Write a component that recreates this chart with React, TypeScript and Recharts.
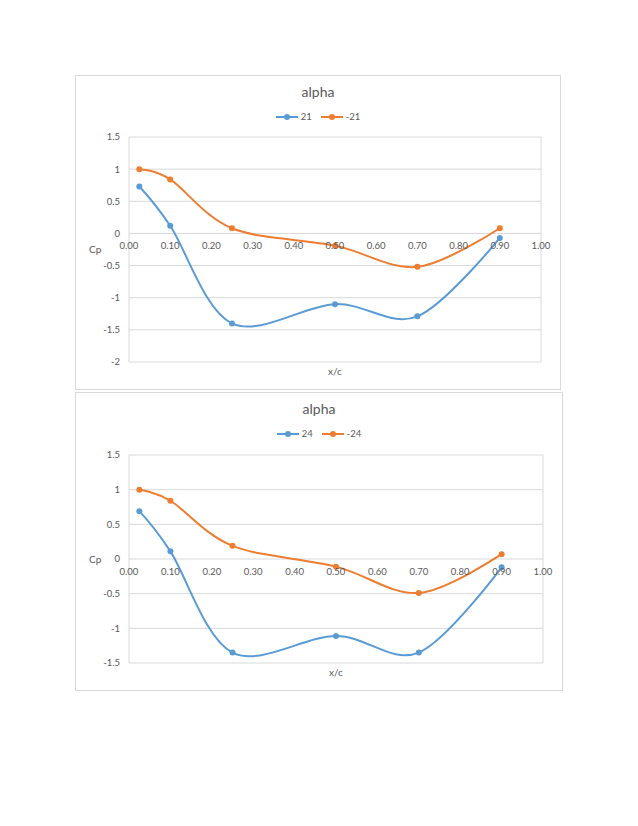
import React from 'react';
import {
  LineChart,
  Line,
  XAxis,
  YAxis,
  CartesianGrid,
  ReferenceDot,
} from 'recharts';

// chord stations shared by every run
const xc = [0.025, 0.1, 0.25, 0.5, 0.7, 0.9];

// pressure coefficients, alpha = +/-21
const cp21 = [0.73, 0.12, -1.4, -1.1, -1.29, -0.07];
const cpNeg21 = [1.0, 0.84, 0.08, -0.19, -0.52, 0.08];

// pressure coefficients, alpha = +/-24
const cp24 = [0.69, 0.11, -1.35, -1.11, -1.35, -0.12];
const cpNeg24 = [1.0, 0.84, 0.19, -0.11, -0.49, 0.07];

const xTicks = [0, 0.1, 0.2, 0.3, 0.4, 0.5, 0.6, 0.7, 0.8, 0.9, 1.0];
const yTicksTop = [1.5, 1, 0.5, 0, -0.5, -1, -1.5, -2];
const yTicksBottom = [1.5, 1, 0.5, 0, -0.5, -1, -1.5];

const BLUE = '#5b9bd5';
const ORANGE = '#ed7d31';
const GRID = '#d9d9d9';
const TEXT = '#595959';
const FONT = 'Lato, "Open Sans", sans-serif';

// Catmull-Rom style smoothing, close to the spreadsheet "smoothed line"
function smoothCurve(context: any) {
  const k = 1 / 6;
  let x0 = NaN, x1 = NaN, x2 = NaN, y0 = NaN, y1 = NaN, y2 = NaN;
  let n = 0;
  const seg = (x: number, y: number) =>
    context.bezierCurveTo(
      x1 + k * (x2 - x0),
      y1 + k * (y2 - y0),
      x2 + k * (x1 - x),
      y2 + k * (y1 - y),
      x2,
      y2
    );
  return {
    areaStart() {},
    areaEnd() {},
    lineStart() {
      x0 = x1 = x2 = y0 = y1 = y2 = NaN;
      n = 0;
    },
    lineEnd() {
      if (n === 2) context.lineTo(x2, y2);
      else if (n === 3) seg(x1, y1);
    },
    point(x: number, y: number) {
      if (n === 0) {
        n = 1;
        context.moveTo(x, y);
      } else if (n === 1) {
        n = 2;
        x1 = x;
        y1 = y;
      } else {
        n = 3;
        seg(x, y);
      }
      x0 = x1; x1 = x2; x2 = x;
      y0 = y1; y1 = y2; y2 = y;
    },
  };
}

interface SeriesDef {
  name: string;
  values: number[];
  color: string;
}

interface PanelProps {
  left: number;
  top: number;
  width: number;
  height: number;
  plotTop: number;
  plotRight: number;
  series: SeriesDef[];
  yTicks: number[];
}

function LegendRow({ series }: { series: SeriesDef[] }) {
  return (
    <div
      style={{
        position: 'absolute',
        top: 36,
        left: 0,
        right: 0,
        display: 'flex',
        justifyContent: 'center',
        gap: 9,
        fontSize: 9.5,
        color: TEXT,
        fontFamily: FONT,
      }}
    >
      {series.map((s) => (
        <div key={s.name} style={{ display: 'flex', alignItems: 'center', gap: 3 }}>
          <svg width={22} height={10}>
            <line x1={0} y1={5} x2={22} y2={5} stroke={s.color} strokeWidth={2} />
            <circle cx={11} cy={5} r={3} fill={s.color} />
          </svg>
          <span>{s.name}</span>
        </div>
      ))}
    </div>
  );
}

function CpPanel({ left, top, width, height, plotTop, plotRight, series, yTicks }: PanelProps) {
  const data = xc.map((x, i) => {
    const row: Record<string, number> = { x };
    series.forEach((s) => {
      row[s.name] = s.values[i];
    });
    return row;
  });
  const yMin = yTicks[yTicks.length - 1];
  const yMax = yTicks[0];

  return (
    <div
      style={{
        position: 'absolute',
        left,
        top,
        width,
        height,
        boxShadow: `inset 0 0 0 1px ${GRID}`,
        background: '#fff',
      }}
    >
      <div
        style={{
          position: 'absolute',
          top: 8,
          left: 0,
          right: 0,
          textAlign: 'center',
          fontSize: 14,
          color: TEXT,
          fontFamily: FONT,
        }}
      >
        alpha
      </div>
      <LegendRow series={series} />
      <div style={{ position: 'absolute', left: 0, top: 0 }}>
        <LineChart
          width={width}
          height={height}
          data={data}
          margin={{ top: plotTop, right: plotRight, bottom: 14, left: 0 }}
          style={{ fontFamily: FONT }}
        >
          <CartesianGrid stroke={GRID} strokeWidth={1} />
          <XAxis
            dataKey="x"
            type="number"
            domain={[0, 1]}
            ticks={xTicks}
            tick={false}
            axisLine={false}
            tickLine={false}
            height={14}
            label={{ value: 'x/c', position: 'insideBottom', offset: 1, fill: TEXT, fontSize: 10 }}
          />
          <YAxis
            type="number"
            domain={[yMin, yMax]}
            ticks={yTicks}
            width={54}
            axisLine={false}
            tickLine={false}
            tickSize={0}
            tickMargin={9}
            tick={{ fill: TEXT, fontSize: 9.5 }}
            label={{ value: 'Cp', position: 'insideLeft', offset: 14, angle: 0, fill: TEXT, fontSize: 10 }}
          />
          {xTicks.map((t) => (
            <ReferenceDot
              key={t}
              x={t}
              y={0}
              r={0}
              fill="none"
              stroke="none"
              label={{ value: t.toFixed(2), position: 'bottom', offset: 9, fill: TEXT, fontSize: 9.5 }}
            />
          ))}
          {series.map((s) => (
            <Line
              key={s.name}
              dataKey={s.name}
              type={smoothCurve as any}
              stroke={s.color}
              strokeWidth={2}
              dot={{ r: 3, fill: s.color, stroke: s.color, strokeWidth: 0 }}
              activeDot={false}
              isAnimationActive={false}
            />
          ))}
        </LineChart>
      </div>
    </div>
  );
}

export default function App() {
  return (
    <div style={{ position: 'absolute', left: 0, top: 0, width: 638, height: 826, background: '#fff' }}>
      <CpPanel
        left={75}
        top={75}
        width={486}
        height={315}
        plotTop={62}
        plotRight={20}
        yTicks={yTicksTop}
        series={[
          { name: '21', values: cp21, color: BLUE },
          { name: '-21', values: cpNeg21, color: ORANGE },
        ]}
      />
      <CpPanel
        left={75}
        top={392}
        width={488}
        height={299}
        plotTop={63}
        plotRight={20}
        yTicks={yTicksBottom}
        series={[
          { name: '24', values: cp24, color: BLUE },
          { name: '-24', values: cpNeg24, color: ORANGE },
        ]}
      />
    </div>
  );
}
